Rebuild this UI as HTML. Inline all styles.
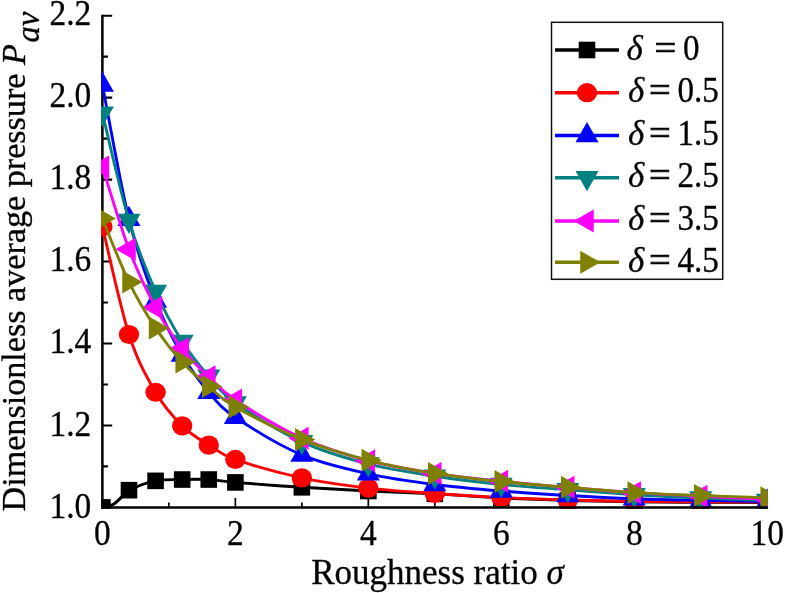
<!DOCTYPE html>
<html><head><meta charset="utf-8"><title>Chart</title>
<style>html,body{margin:0;padding:0;background:#fff;}svg{display:block;}text{font-family:"Liberation Serif","DejaVu Serif",serif;fill:#000;stroke:#000;stroke-width:0.3px;}</style></head><body>
<svg width="785" height="593" viewBox="0 0 785 593">
<rect width="785" height="593" fill="#fff"/>
<defs><clipPath id="pc"><rect x="101.05" y="13.70" width="666.75" height="495.00"/></clipPath></defs>
<path d="M102.40 14.70 V507.40" stroke="#000" stroke-width="2.5" fill="none"/>
<path d="M102.40 466.42 h5.5 M102.40 425.45 h9.8 M102.40 384.47 h5.5 M102.40 343.50 h9.8 M102.40 302.52 h5.5 M102.40 261.55 h9.8 M102.40 220.57 h5.5 M102.40 179.60 h9.8 M102.40 138.62 h5.5 M102.40 97.65 h9.8 M102.40 56.67 h5.5 M102.40 15.70 h9.8" stroke="#000" stroke-width="2.1" fill="none"/>
<path d="M168.88 507.40 v-5.0 M235.36 507.40 v-9.3 M301.84 507.40 v-5.0 M368.32 507.40 v-9.3 M434.80 507.40 v-5.0 M501.28 507.40 v-9.3 M567.76 507.40 v-5.0 M634.24 507.40 v-9.3 M700.72 507.40 v-5.0 M767.20 507.40 v-9.3" stroke="#000" stroke-width="1.7" fill="none"/>
<g clip-path="url(#pc)">
<path d="M102.40 507.40 C115.70 507.40 119.68 497.17 128.99 490.19 C137.86 485.77 146.72 482.62 155.58 480.85 C164.45 479.07 173.31 479.76 182.18 479.54 C191.04 479.32 199.90 479.06 208.77 479.54 C217.63 480.02 219.85 481.11 235.36 482.41 C250.87 483.70 279.68 485.89 301.84 487.32 C324.00 488.76 346.16 489.92 368.32 491.01 C390.48 492.10 412.64 492.72 434.80 493.88 C456.96 495.04 479.12 496.88 501.28 497.98 C523.44 499.07 545.60 499.79 567.76 500.43 C589.92 501.08 612.08 501.56 634.24 501.87 C656.40 502.18 678.56 502.18 700.72 502.28 C722.88 502.38 756.12 502.45 767.20 502.48" fill="none" stroke="#000000" stroke-width="2.9" stroke-linejoin="round"/>
<rect x="94.10" y="499.10" width="16.6" height="16.6" fill="#000000"/>
<rect x="120.69" y="481.89" width="16.6" height="16.6" fill="#000000"/>
<rect x="147.28" y="472.55" width="16.6" height="16.6" fill="#000000"/>
<rect x="173.88" y="471.24" width="16.6" height="16.6" fill="#000000"/>
<rect x="200.47" y="471.24" width="16.6" height="16.6" fill="#000000"/>
<rect x="227.06" y="474.11" width="16.6" height="16.6" fill="#000000"/>
<rect x="293.54" y="479.02" width="16.6" height="16.6" fill="#000000"/>
<rect x="360.02" y="482.71" width="16.6" height="16.6" fill="#000000"/>
<rect x="426.50" y="485.58" width="16.6" height="16.6" fill="#000000"/>
<rect x="492.98" y="489.68" width="16.6" height="16.6" fill="#000000"/>
<rect x="559.46" y="492.13" width="16.6" height="16.6" fill="#000000"/>
<rect x="625.94" y="493.57" width="16.6" height="16.6" fill="#000000"/>
<rect x="692.42" y="493.98" width="16.6" height="16.6" fill="#000000"/>
<rect x="758.90" y="494.18" width="16.6" height="16.6" fill="#000000"/>
<path d="M102.40 226.72 C106.83 244.68 120.13 306.90 128.99 334.49 C137.86 362.08 146.72 377.03 155.58 392.26 C164.45 407.49 173.31 417.05 182.18 425.86 C191.04 434.67 199.90 439.52 208.77 445.12 C217.63 450.72 219.85 454.00 235.36 459.46 C250.87 464.92 279.68 473.12 301.84 477.90 C324.00 482.68 346.16 485.55 368.32 488.14 C390.48 490.74 412.64 491.90 434.80 493.47 C456.96 495.04 479.12 496.47 501.28 497.57 C523.44 498.66 545.60 499.38 567.76 500.02 C589.92 500.67 612.08 501.15 634.24 501.46 C656.40 501.77 678.56 501.77 700.72 501.87 C722.88 501.97 756.12 502.04 767.20 502.07" fill="none" stroke="#ff0000" stroke-width="2.9" stroke-linejoin="round"/>
<ellipse cx="102.40" cy="226.72" rx="10.2" ry="9.6" fill="#ff0000"/>
<ellipse cx="128.99" cy="334.49" rx="10.2" ry="9.6" fill="#ff0000"/>
<ellipse cx="155.58" cy="392.26" rx="10.2" ry="9.6" fill="#ff0000"/>
<ellipse cx="182.18" cy="425.86" rx="10.2" ry="9.6" fill="#ff0000"/>
<ellipse cx="208.77" cy="445.12" rx="10.2" ry="9.6" fill="#ff0000"/>
<ellipse cx="235.36" cy="459.46" rx="10.2" ry="9.6" fill="#ff0000"/>
<ellipse cx="301.84" cy="477.90" rx="10.2" ry="9.6" fill="#ff0000"/>
<ellipse cx="368.32" cy="488.14" rx="10.2" ry="9.6" fill="#ff0000"/>
<ellipse cx="434.80" cy="493.47" rx="10.2" ry="9.6" fill="#ff0000"/>
<ellipse cx="501.28" cy="497.57" rx="10.2" ry="9.6" fill="#ff0000"/>
<ellipse cx="567.76" cy="500.02" rx="10.2" ry="9.6" fill="#ff0000"/>
<ellipse cx="634.24" cy="501.46" rx="10.2" ry="9.6" fill="#ff0000"/>
<ellipse cx="700.72" cy="501.87" rx="10.2" ry="9.6" fill="#ff0000"/>
<ellipse cx="767.20" cy="502.07" rx="10.2" ry="9.6" fill="#ff0000"/>
<path d="M102.40 84.95 C106.83 107.35 120.13 183.36 128.99 219.35 C137.86 255.34 146.72 278.28 155.58 300.89 C164.45 323.49 173.31 339.74 182.18 354.97 C191.04 370.20 199.90 381.88 208.77 392.26 C217.63 402.64 219.85 406.81 235.36 417.25 C250.87 427.70 279.68 445.53 301.84 454.95 C324.00 464.38 346.16 468.88 368.32 473.80 C390.48 478.72 412.64 481.59 434.80 484.45 C456.96 487.32 479.12 489.17 501.28 491.01 C523.44 492.85 545.60 494.22 567.76 495.52 C589.92 496.81 612.08 497.98 634.24 498.80 C656.40 499.61 678.56 499.96 700.72 500.43 C722.88 500.91 756.12 501.46 767.20 501.66" fill="none" stroke="#0000ff" stroke-width="2.9" stroke-linejoin="round"/>
<polygon points="90.90,91.71 113.90,91.71 102.40,71.41" fill="#0000ff"/>
<polygon points="117.49,226.11 140.49,226.11 128.99,205.81" fill="#0000ff"/>
<polygon points="144.08,307.65 167.08,307.65 155.58,287.35" fill="#0000ff"/>
<polygon points="170.68,361.74 193.68,361.74 182.18,341.44" fill="#0000ff"/>
<polygon points="197.27,399.03 220.27,399.03 208.77,378.73" fill="#0000ff"/>
<polygon points="223.86,424.02 246.86,424.02 235.36,403.72" fill="#0000ff"/>
<polygon points="290.34,461.72 313.34,461.72 301.84,441.42" fill="#0000ff"/>
<polygon points="356.82,480.57 379.82,480.57 368.32,460.27" fill="#0000ff"/>
<polygon points="423.30,491.22 446.30,491.22 434.80,470.92" fill="#0000ff"/>
<polygon points="489.78,497.78 512.78,497.78 501.28,477.48" fill="#0000ff"/>
<polygon points="556.26,502.28 579.26,502.28 567.76,481.98" fill="#0000ff"/>
<polygon points="622.74,505.56 645.74,505.56 634.24,485.26" fill="#0000ff"/>
<polygon points="689.22,507.20 712.22,507.20 700.72,486.90" fill="#0000ff"/>
<polygon points="755.70,508.43 778.70,508.43 767.20,488.13" fill="#0000ff"/>
<path d="M102.40 113.22 C106.83 131.11 120.13 190.87 128.99 220.57 C137.86 250.28 146.72 271.32 155.58 291.46 C164.45 311.61 173.31 327.31 182.18 341.45 C191.04 355.59 199.90 366.04 208.77 376.28 C217.63 386.52 219.85 391.99 235.36 402.91 C250.87 413.84 279.68 431.66 301.84 441.84 C324.00 452.02 346.16 458.23 368.32 463.97 C390.48 469.70 412.64 472.84 434.80 476.26 C456.96 479.67 479.12 482.20 501.28 484.45 C523.44 486.71 545.60 488.07 567.76 489.78 C589.92 491.49 612.08 493.33 634.24 494.70 C656.40 496.06 678.56 497.02 700.72 497.98 C722.88 498.93 756.12 500.02 767.20 500.43" fill="none" stroke="#008080" stroke-width="2.9" stroke-linejoin="round"/>
<polygon points="90.90,106.45 113.90,106.45 102.40,126.75" fill="#008080"/>
<polygon points="117.49,213.81 140.49,213.81 128.99,234.11" fill="#008080"/>
<polygon points="144.08,284.70 167.08,284.70 155.58,305.00" fill="#008080"/>
<polygon points="170.68,334.68 193.68,334.68 182.18,354.98" fill="#008080"/>
<polygon points="197.27,369.51 220.27,369.51 208.77,389.81" fill="#008080"/>
<polygon points="223.86,396.15 246.86,396.15 235.36,416.45" fill="#008080"/>
<polygon points="290.34,435.07 313.34,435.07 301.84,455.37" fill="#008080"/>
<polygon points="356.82,457.20 379.82,457.20 368.32,477.50" fill="#008080"/>
<polygon points="423.30,469.49 446.30,469.49 434.80,489.79" fill="#008080"/>
<polygon points="489.78,477.69 512.78,477.69 501.28,497.99" fill="#008080"/>
<polygon points="556.26,483.01 579.26,483.01 567.76,503.31" fill="#008080"/>
<polygon points="622.74,487.93 645.74,487.93 634.24,508.23" fill="#008080"/>
<polygon points="689.22,491.21 712.22,491.21 700.72,511.51" fill="#008080"/>
<polygon points="755.70,493.67 778.70,493.67 767.20,513.97" fill="#008080"/>
<path d="M102.40 166.90 C106.83 180.62 120.13 225.83 128.99 249.26 C137.86 272.68 146.72 290.85 155.58 307.44 C164.45 324.04 173.31 337.29 182.18 348.83 C191.04 360.37 199.90 368.15 208.77 376.69 C217.63 385.23 219.85 389.80 235.36 400.05 C250.87 410.29 279.68 428.05 301.84 438.15 C324.00 448.26 346.16 454.82 368.32 460.69 C390.48 466.56 412.64 469.98 434.80 473.39 C456.96 476.81 479.12 478.85 501.28 481.18 C523.44 483.50 545.60 485.41 567.76 487.32 C589.92 489.23 612.08 491.15 634.24 492.65 C656.40 494.15 678.56 495.24 700.72 496.34 C722.88 497.43 756.12 498.73 767.20 499.20" fill="none" stroke="#ff00ff" stroke-width="2.9" stroke-linejoin="round"/>
<polygon points="109.17,155.40 109.17,178.40 88.87,166.90" fill="#ff00ff"/>
<polygon points="135.76,237.76 135.76,260.76 115.46,249.26" fill="#ff00ff"/>
<polygon points="162.35,295.94 162.35,318.94 142.05,307.44" fill="#ff00ff"/>
<polygon points="188.94,337.33 188.94,360.33 168.64,348.83" fill="#ff00ff"/>
<polygon points="215.53,365.19 215.53,388.19 195.23,376.69" fill="#ff00ff"/>
<polygon points="242.13,388.55 242.13,411.55 221.83,400.05" fill="#ff00ff"/>
<polygon points="308.61,426.65 308.61,449.65 288.31,438.15" fill="#ff00ff"/>
<polygon points="375.09,449.19 375.09,472.19 354.79,460.69" fill="#ff00ff"/>
<polygon points="441.57,461.89 441.57,484.89 421.27,473.39" fill="#ff00ff"/>
<polygon points="508.05,469.68 508.05,492.68 487.75,481.18" fill="#ff00ff"/>
<polygon points="574.53,475.82 574.53,498.82 554.23,487.32" fill="#ff00ff"/>
<polygon points="641.01,481.15 641.01,504.15 620.71,492.65" fill="#ff00ff"/>
<polygon points="707.49,484.84 707.49,507.84 687.19,496.34" fill="#ff00ff"/>
<polygon points="773.97,487.70 773.97,510.70 753.67,499.20" fill="#ff00ff"/>
<path d="M102.40 218.53 C106.83 229.11 120.13 263.80 128.99 282.04 C137.86 300.27 146.72 314.61 155.58 327.93 C164.45 341.25 173.31 352.17 182.18 361.94 C191.04 371.70 199.90 379.01 208.77 386.52 C217.63 394.04 219.85 398.20 235.36 407.01 C250.87 415.82 279.68 430.50 301.84 439.38 C324.00 448.26 346.16 454.61 368.32 460.28 C390.48 465.95 412.64 469.84 434.80 473.39 C456.96 476.94 479.12 479.26 501.28 481.59 C523.44 483.91 545.60 485.48 567.76 487.32 C589.92 489.17 612.08 491.28 634.24 492.65 C656.40 494.01 678.56 494.66 700.72 495.52 C722.88 496.37 756.12 497.40 767.20 497.77" fill="none" stroke="#808000" stroke-width="2.9" stroke-linejoin="round"/>
<polygon points="95.63,207.03 95.63,230.03 115.93,218.53" fill="#808000"/>
<polygon points="122.23,270.54 122.23,293.54 142.53,282.04" fill="#808000"/>
<polygon points="148.82,316.43 148.82,339.43 169.12,327.93" fill="#808000"/>
<polygon points="175.41,350.44 175.41,373.44 195.71,361.94" fill="#808000"/>
<polygon points="202.00,375.02 202.00,398.02 222.30,386.52" fill="#808000"/>
<polygon points="228.59,395.51 228.59,418.51 248.89,407.01" fill="#808000"/>
<polygon points="295.07,427.88 295.07,450.88 315.37,439.38" fill="#808000"/>
<polygon points="361.55,448.78 361.55,471.78 381.85,460.28" fill="#808000"/>
<polygon points="428.03,461.89 428.03,484.89 448.33,473.39" fill="#808000"/>
<polygon points="494.51,470.09 494.51,493.09 514.81,481.59" fill="#808000"/>
<polygon points="560.99,475.82 560.99,498.82 581.29,487.32" fill="#808000"/>
<polygon points="627.47,481.15 627.47,504.15 647.77,492.65" fill="#808000"/>
<polygon points="693.95,484.02 693.95,507.02 714.25,495.52" fill="#808000"/>
<polygon points="760.43,486.27 760.43,509.27 780.73,497.77" fill="#808000"/>
</g>
<path d="M101.15 507.40 H767.70" stroke="#000" stroke-width="2.5" fill="none"/>
<text transform="translate(91.20,517.80) scale(0.955,1)" font-size="35.0" text-anchor="end" xml:space="preserve">1.0</text>
<text transform="translate(91.20,435.63) scale(0.955,1)" font-size="35.0" text-anchor="end" xml:space="preserve">1.2</text>
<text transform="translate(91.20,353.47) scale(0.955,1)" font-size="35.0" text-anchor="end" xml:space="preserve">1.4</text>
<text transform="translate(91.20,271.30) scale(0.955,1)" font-size="35.0" text-anchor="end" xml:space="preserve">1.6</text>
<text transform="translate(91.20,189.13) scale(0.955,1)" font-size="35.0" text-anchor="end" xml:space="preserve">1.8</text>
<text transform="translate(91.20,106.97) scale(0.955,1)" font-size="35.0" text-anchor="end" xml:space="preserve">2.0</text>
<text transform="translate(91.20,24.80) scale(0.955,1)" font-size="35.0" text-anchor="end" xml:space="preserve">2.2</text>
<text transform="translate(102.40,544.80) scale(0.955,1)" font-size="35.0" text-anchor="middle" xml:space="preserve">0</text>
<text transform="translate(235.36,544.80) scale(0.955,1)" font-size="35.0" text-anchor="middle" xml:space="preserve">2</text>
<text transform="translate(368.32,544.80) scale(0.955,1)" font-size="35.0" text-anchor="middle" xml:space="preserve">4</text>
<text transform="translate(501.28,544.80) scale(0.955,1)" font-size="35.0" text-anchor="middle" xml:space="preserve">6</text>
<text transform="translate(634.24,544.80) scale(0.955,1)" font-size="35.0" text-anchor="middle" xml:space="preserve">8</text>
<text transform="translate(767.20,544.80) scale(0.955,1)" font-size="35.0" text-anchor="middle" xml:space="preserve">10</text>
<text transform="translate(437.50,583.60) scale(1.000,1)" font-size="35.0" text-anchor="middle" xml:space="preserve">Roughness ratio <tspan font-style="italic">σ</tspan></text>
<text transform="translate(24.5,511.5) rotate(-90) scale(1.035,1.04)" font-size="33">Dimensionless average pressure <tspan font-style="italic">P</tspan><tspan font-style="italic" dy="13.5" dx="1.5" font-size="31.5">av</tspan></text>
<rect x="551.5" y="22.3" width="171.2" height="257.0" fill="#fff" stroke="#111" stroke-width="1.5"/>
<path d="M555 50.0 H619" stroke="#000000" stroke-width="3.5"/>
<rect x="578.70" y="41.70" width="16.6" height="16.6" fill="#000000"/>
<text transform="translate(626.50,59.50) scale(1.000,1)" font-size="35.0" text-anchor="start" xml:space="preserve"><tspan font-style="italic">δ</tspan></text>
<text transform="translate(654.50,59.50) scale(1.100,1)" font-size="35.0" text-anchor="start" xml:space="preserve"><tspan stroke-width="0.7">=</tspan></text>
<text transform="translate(683.00,59.50) scale(0.945,1)" font-size="35.0" text-anchor="start" xml:space="preserve">0</text>
<path d="M555 92.7 H619" stroke="#ff0000" stroke-width="3.5"/>
<ellipse cx="587.00" cy="92.70" rx="10.2" ry="9.6" fill="#ff0000"/>
<text transform="translate(628.00,102.20) scale(1.000,1)" font-size="35.0" text-anchor="start" xml:space="preserve"><tspan font-style="italic">δ</tspan></text>
<text transform="translate(648.90,102.20) scale(1.100,1)" font-size="35.0" text-anchor="start" xml:space="preserve"><tspan stroke-width="0.7">=</tspan></text>
<text transform="translate(677.40,102.20) scale(0.945,1)" font-size="35.0" text-anchor="start" xml:space="preserve">0.5</text>
<path d="M555 135.5 H619" stroke="#0000ff" stroke-width="3.5"/>
<polygon points="575.50,142.27 598.50,142.27 587.00,121.97" fill="#0000ff"/>
<text transform="translate(628.00,145.00) scale(1.000,1)" font-size="35.0" text-anchor="start" xml:space="preserve"><tspan font-style="italic">δ</tspan></text>
<text transform="translate(648.90,145.00) scale(1.100,1)" font-size="35.0" text-anchor="start" xml:space="preserve"><tspan stroke-width="0.7">=</tspan></text>
<text transform="translate(677.40,145.00) scale(0.945,1)" font-size="35.0" text-anchor="start" xml:space="preserve">1.5</text>
<path d="M555 177.7 H619" stroke="#008080" stroke-width="3.5"/>
<polygon points="575.50,170.93 598.50,170.93 587.00,191.23" fill="#008080"/>
<text transform="translate(628.00,187.20) scale(1.000,1)" font-size="35.0" text-anchor="start" xml:space="preserve"><tspan font-style="italic">δ</tspan></text>
<text transform="translate(648.90,187.20) scale(1.100,1)" font-size="35.0" text-anchor="start" xml:space="preserve"><tspan stroke-width="0.7">=</tspan></text>
<text transform="translate(677.40,187.20) scale(0.945,1)" font-size="35.0" text-anchor="start" xml:space="preserve">2.5</text>
<path d="M555 220.9 H619" stroke="#ff00ff" stroke-width="3.5"/>
<polygon points="593.77,209.40 593.77,232.40 573.47,220.90" fill="#ff00ff"/>
<text transform="translate(628.00,230.40) scale(1.000,1)" font-size="35.0" text-anchor="start" xml:space="preserve"><tspan font-style="italic">δ</tspan></text>
<text transform="translate(648.90,230.40) scale(1.100,1)" font-size="35.0" text-anchor="start" xml:space="preserve"><tspan stroke-width="0.7">=</tspan></text>
<text transform="translate(677.40,230.40) scale(0.945,1)" font-size="35.0" text-anchor="start" xml:space="preserve">3.5</text>
<path d="M555 262.3 H619" stroke="#808000" stroke-width="3.5"/>
<polygon points="580.23,250.80 580.23,273.80 600.53,262.30" fill="#808000"/>
<text transform="translate(628.00,271.80) scale(1.000,1)" font-size="35.0" text-anchor="start" xml:space="preserve"><tspan font-style="italic">δ</tspan></text>
<text transform="translate(648.90,271.80) scale(1.100,1)" font-size="35.0" text-anchor="start" xml:space="preserve"><tspan stroke-width="0.7">=</tspan></text>
<text transform="translate(677.40,271.80) scale(0.945,1)" font-size="35.0" text-anchor="start" xml:space="preserve">4.5</text>
</svg></body></html>
